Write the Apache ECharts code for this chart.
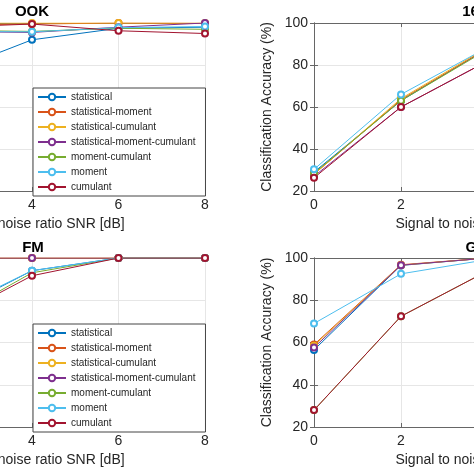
<!DOCTYPE html>
<html>
<head>
<meta charset="utf-8">
<script src="https://cdn.jsdelivr.net/npm/echarts@6/dist/echarts.min.js"></script>
<style>
  html, body { margin: 0; padding: 0; background: #fff; }
  #chart { width: 474px; height: 474px; }
</style>
</head>
<body>
<div id="chart"></div>
<script>
// SNR values on the x axis (dB)
const snr = [0, 2, 4, 6, 8];
const methods = [
  "statistical",
  "statistical-moment",
  "statistical-cumulant",
  "statistical-moment-cumulant",
  "moment-cumulant",
  "moment",
  "cumulant",
];
const yTicks = [20, 40, 60, 80, 100];
const xTicks = [0, 2, 4, 6, 8];

// accuracy (%) per method, same order as methods
const ookAcc = [
  [60, 76, 92, 97.5, 98],
  [96, 99, 99.5, 100, 99.8],
  [98, 100, 100, 100, 100],
  [93, 96, 95.5, 98, 100],
  [94, 96.5, 96, 97.5, 97],
  [93, 96, 95.8, 97.8, 98.3],
  [95, 98, 99.5, 96.3, 95],
];
const qamAcc = [
  [29, 63, 88, 95, 98],
  [28, 63.5, 88, 95, 98],
  [28, 64, 88.5, 95, 98],
  [27, 60, 82, 91, 96],
  [28.5, 63, 87.5, 95, 98],
  [30.3, 66, 88.5, 96, 99],
  [26.3, 60, 82, 90, 95],
];
const fmAcc = [
  [45, 73, 94, 100, 100],
  [98, 100, 100, 100, 100],
  [98, 100, 100, 100, 100],
  [99, 100, 100, 100, 100],
  [42, 70, 93, 100, 100],
  [46, 74, 94, 100, 100],
  [40, 70, 91.6, 100, 100],
];
const gmskAcc = [
  [56.5, 96.5, 100, 100, 100],
  [59, 96.8, 100, 100, 100],
  [58.5, 96.6, 100, 100, 100],
  [57.6, 96.6, 100, 100, 100],
  [28, 72.4, 94, 99, 100],
  [69, 92.5, 99.3, 100, 100],
  [28, 72.4, 94, 99, 100],
];

const plotNames = ["OOK", "16QAM", "FM", "GMSK"];
const plotData = [ookAcc, qamAcc, fmAcc, gmskAcc];

const colors = ["#0072BD", "#D95319", "#EDB120", "#7E2F8E", "#77AC30", "#4DBEEE", "#A2142F"];
const font = "'Liberation Sans', Arial, sans-serif";
const axisColor = "#666";

const grids = [
  { left: -141, top: 23, width: 346, height: 168 },
  { left: 314, top: 23, width: 348, height: 168 },
  { left: -141, top: 258, width: 346, height: 169 },
  { left: 314, top: 258, width: 348, height: 169 },
];
const titlePos = [
  { left: 32, top: 4 },
  { left: 488, top: 4 },
  { left: 33, top: 240 },
  { left: 488, top: 240 },
];

const chart = echarts.init(document.getElementById("chart"));

const xAxes = [];
const yAxes = [];
const series = [];

grids.forEach((g, i) => {
  // main axes
  xAxes.push({
    type: "value",
    gridIndex: i,
    min: xTicks[0],
    max: xTicks[xTicks.length - 1],
    interval: 2,
    name: "Signal to noise ratio SNR [dB]",
    nameLocation: "middle",
    nameGap: 26,
    nameTextStyle: { fontSize: 14, color: "#262626", fontFamily: font },
    axisLine: { lineStyle: { color: axisColor } },
    axisTick: { inside: true, length: 4, lineStyle: { color: axisColor } },
    axisLabel: { fontSize: 14, color: "#262626", fontFamily: font, margin: 7 },
    splitLine: { show: true, lineStyle: { color: "#e6e6e6" } },
  });
  yAxes.push({
    type: "value",
    gridIndex: i,
    min: yTicks[0],
    max: yTicks[yTicks.length - 1],
    interval: 20,
    name: "Classification Accuracy (%)",
    nameLocation: "middle",
    nameGap: 31,
    nameTextStyle: { fontSize: 14, color: "#262626", fontFamily: font },
    axisLine: { show: true, lineStyle: { color: axisColor } },
    axisTick: { show: true, inside: true, length: 4, lineStyle: { color: axisColor } },
    axisLabel: { fontSize: 14, color: "#262626", fontFamily: font, margin: 6 },
    splitLine: { show: true, lineStyle: { color: "#e6e6e6" } },
  });
  // mirrored box axes (top / right)
  xAxes.push({
    type: "value",
    gridIndex: i,
    position: "top",
    min: xTicks[0],
    max: xTicks[xTicks.length - 1],
    interval: 2,
    axisLine: { lineStyle: { color: axisColor } },
    axisTick: { inside: true, length: 4, lineStyle: { color: axisColor } },
    axisLabel: { show: false },
    splitLine: { show: false },
  });
  yAxes.push({
    type: "value",
    gridIndex: i,
    position: "right",
    min: yTicks[0],
    max: yTicks[yTicks.length - 1],
    interval: 20,
    axisLine: { show: true, lineStyle: { color: axisColor } },
    axisTick: { show: true, inside: true, length: 4, lineStyle: { color: axisColor } },
    axisLabel: { show: false },
    splitLine: { show: false },
  });

  plotData[i].forEach((vals, k) => {
    series.push({
      name: methods[k],
      type: "line",
      xAxisIndex: i * 2,
      yAxisIndex: i * 2,
      data: snr.map((s, j) => [s, vals[j]]),
      symbol: "emptyCircle",
      symbolSize: 6,
      color: colors[k],
      lineStyle: { width: 1, color: colors[k] },
      itemStyle: { color: colors[k], borderWidth: 1 },
    });
  });
});

const legendBase = {
  orient: "vertical",
  left: 33,
  data: methods,
  itemWidth: 28,
  itemHeight: 8,
  itemGap: 5,
  padding: [4, 10, 4, 4],
  backgroundColor: "#fff",
  borderColor: "#444",
  borderWidth: 1,
  itemStyle: { borderWidth: 1 },
  textStyle: { fontSize: 10, color: "#262626", fontFamily: font },
};

chart.setOption({
  animation: false,
  backgroundColor: "#fff",
  title: titlePos.map((t, i) => ({
    text: plotNames[i],
    left: t.left,
    top: t.top,
    textAlign: "center",
    padding: 0,
    textStyle: { fontSize: 15, fontWeight: "bold", color: "#000", fontFamily: font },
  })),
  legend: [
    Object.assign({}, legendBase, { top: 88 }),
    Object.assign({}, legendBase, { top: 324 }),
  ],
  grid: grids.map((g) =>
    Object.assign({}, g, { outerBoundsMode: "none", containLabel: false, show: false })
  ),
  xAxis: xAxes,
  yAxis: yAxes,
  series: series,
});
</script>
</body>
</html>
